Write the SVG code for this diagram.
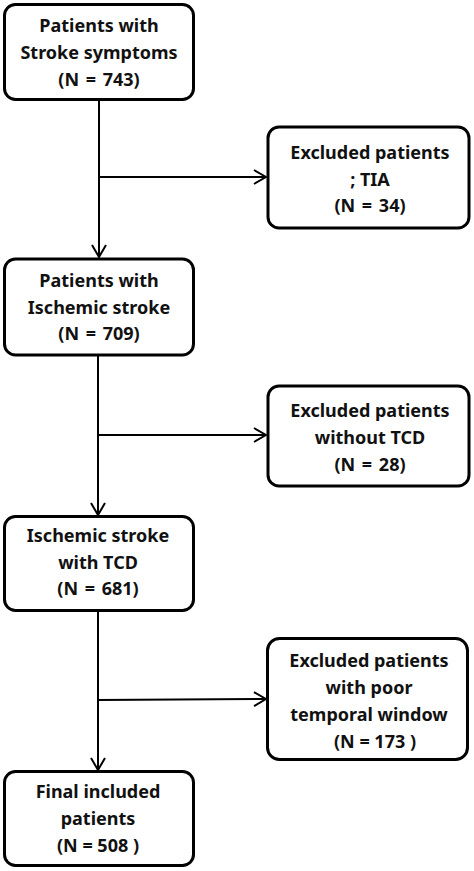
<svg xmlns="http://www.w3.org/2000/svg" width="474" height="871" viewBox="0 0 474 871">
<style>
.box{fill:#fff;stroke:#000;stroke-width:3}
.t{font-family:"Noto Sans","DejaVu Sans",sans-serif;font-weight:bold;font-size:18px;fill:#111;text-anchor:middle;dominant-baseline:central}
.c{stroke:#000;stroke-width:2;fill:none}
</style>
<defs>
<marker id="ah" viewBox="0 0 14 16" refX="13" refY="8" markerWidth="14" markerHeight="16" markerUnits="userSpaceOnUse" orient="auto">
<polyline points="1,1 13,8 1,15" fill="none" stroke="#000" stroke-width="2"/>
</marker>
</defs>
<rect width="474" height="871" fill="#fff"/>
<g id="connectors">
<line class="c" x1="99" y1="100" x2="99" y2="257" marker-end="url(#ah)"/>
<line class="c" x1="98" y1="177" x2="266" y2="177" marker-end="url(#ah)"/>
<line class="c" x1="98" y1="356" x2="98" y2="515" marker-end="url(#ah)"/>
<line class="c" x1="98" y1="435" x2="266" y2="435" marker-end="url(#ah)"/>
<line class="c" x1="98" y1="611" x2="98" y2="770" marker-end="url(#ah)"/>
<line class="c" x1="98" y1="700" x2="266" y2="699" marker-end="url(#ah)"/>
</g>
<g id="n1">
<rect class="box" x="4.5" y="4.5" width="189" height="95" rx="11"/>
<text class="t" x="99" y="25">Patients with</text>
<text class="t" x="99" y="52">Stroke symptoms</text>
<text class="t" x="99" y="79" word-spacing="2">(N = 743)</text>
</g>
<g id="x1">
<rect class="box" x="268" y="127" width="201" height="101" rx="11"/>
<text class="t" x="370" y="152">Excluded patients</text>
<text class="t" x="370" y="179">; TIA</text>
<text class="t" x="370" y="205" word-spacing="2">(N = 34)</text>
</g>
<g id="n2">
<rect class="box" x="4.5" y="259" width="189" height="96" rx="11"/>
<text class="t" x="99" y="280">Patients with</text>
<text class="t" x="99" y="307">Ischemic stroke</text>
<text class="t" x="99" y="333" word-spacing="2">(N = 709)</text>
</g>
<g id="x2">
<rect class="box" x="268" y="386" width="201" height="100" rx="11"/>
<text class="t" x="370" y="410">Excluded patients</text>
<text class="t" x="370" y="437">without TCD</text>
<text class="t" x="370" y="464" word-spacing="2">(N = 28)</text>
</g>
<g id="n3">
<rect class="box" x="4.5" y="516.5" width="189" height="94" rx="11"/>
<text class="t" x="98" y="535">Ischemic stroke</text>
<text class="t" x="98" y="562">with TCD</text>
<text class="t" x="98" y="588" word-spacing="2">(N = 681)</text>
</g>
<g id="x3">
<rect class="box" x="267.5" y="638.5" width="200" height="121" rx="12"/>
<text class="t" x="369" y="660">Excluded patients</text>
<text class="t" x="369" y="687">with poor</text>
<text class="t" x="369" y="714">temporal window</text>
<text class="t" x="375" y="741">(N = 173 )</text>
</g>
<g id="n4">
<rect class="box" x="4.5" y="771.5" width="189" height="94" rx="11"/>
<text class="t" x="98" y="791">Final included</text>
<text class="t" x="98" y="818">patients</text>
<text class="t" x="98" y="845">(N = 508 )</text>
</g>
</svg>
